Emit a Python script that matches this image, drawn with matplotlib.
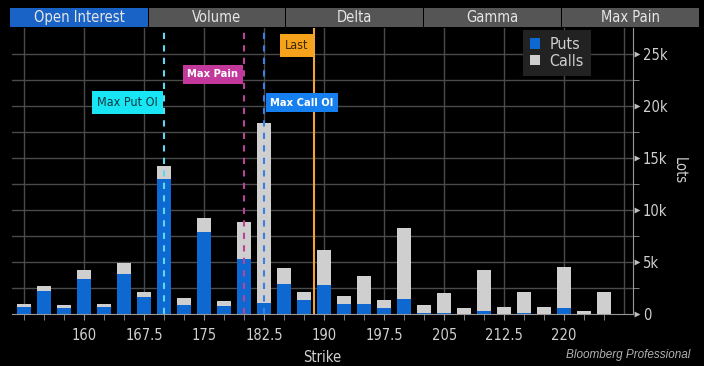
"""
Open interest by strike, Bloomberg style
"""
import matplotlib
matplotlib.use('Agg')
import matplotlib.pyplot as plt
from matplotlib.patches import Rectangle
from matplotlib.transforms import blended_transform_factory
import numpy as np

# strikes and open interest (lots)
strikes = [152.5, 155, 157.5, 160, 162.5, 165, 167.5, 170, 172.5, 175,
           177.5, 180, 182.5, 185, 187.5, 190, 192.5, 195, 197.5, 200,
           202.5, 205, 207.5, 210, 212.5, 215, 217.5, 220, 222.5, 225]
puts = [700, 2200, 600, 3400, 700, 3850, 1650, 13000, 900, 7900,
        800, 5300, 1100, 2900, 1350, 2800, 950, 950, 550, 1400,
        60, 120, 40, 300, 20, 120, 20, 550, 10, 10]
calls = [250, 500, 250, 830, 250, 1050, 450, 1200, 640, 1300,
         450, 3550, 17250, 1550, 770, 3350, 780, 2700, 800, 6850,
         800, 1900, 540, 3950, 650, 2000, 650, 3970, 280, 2100]

tick_strikes = [160, 167.5, 175, 182.5, 190, 197.5, 205, 212.5, 220]
tabs = ["Open Interest", "Volume", "Delta", "Gamma", "Max Pain"]

max_put_oi = 170
max_pain = 180
max_call_oi = 182.5
last_price = 188.8

BG = '#000000'
PUT_C = '#0e68d2'
CALL_C = '#cfcfcf'
GRID_C = '#4a4a4a'
TXT_C = '#d0d0d0'

plt.rcParams['font.family'] = ['DejaVu Sans']
plt.rcParams['font.stretch'] = 'condensed'

W, H = 704, 366
fig = plt.figure(figsize=(W / 100, H / 100), dpi=100, facecolor=BG)
ax = fig.add_axes([12 / W, (H - 314) / H, (633 - 12) / W, (314 - 28) / H])
ax.set_facecolor(BG)

# grid
ax.set_xlim(151.0, 228.6)
ax.set_ylim(0, 27500)
for gx in np.arange(152.5, 228, 7.5):
    ax.axvline(gx, color=GRID_C, lw=1, zorder=0)
for gy in np.arange(2500, 27500, 2500):
    ax.axhline(gy, color=GRID_C, lw=1, zorder=0)

# bars
ax.bar(strikes, puts, width=1.75, color=PUT_C, label='Puts', zorder=2)
ax.bar(strikes, calls, width=1.75, bottom=puts, color=CALL_C, label='Calls', zorder=2)

# reference lines
ax.axvline(max_put_oi, color='#5fd8ef', lw=1.5, ls=(0, (3, 3)), zorder=3)
ax.axvline(max_pain, color='#b8439a', lw=1.5, ls=(0, (3, 3)), zorder=3)
ax.axvline(max_call_oi, color='#3b7fe0', lw=1.5, ls=(0, (3, 3)), zorder=3)
ax.axvline(last_price, color='#f0a43a', lw=1.5, zorder=3)

def tag(x, y, text, fc, tc, side, weight='normal', size=8.5):
    off = -6 if side == 'right' else 6
    ax.annotate(text, xy=(x, y), xytext=(off, 0), textcoords='offset pixels',
                ha=side if side == 'right' else 'left', va='center',
                fontsize=size, color=tc, zorder=5, fontweight=weight,
                bbox=dict(boxstyle='square,pad=0.4', fc=fc, ec='none'))

tag(last_price, 25800, 'Last', '#f7a21b', '#3a2a00', 'right', size=9)
tag(max_pain, 23050, 'Max Pain', '#c2399b', 'white', 'right', 'bold', 8)
tag(max_put_oi, 20300, 'Max Put OI', '#19e6f5', '#0a3a40', 'right', size=9)
tag(max_call_oi, 20300, 'Max Call OI', '#1680f0', 'white', 'left', 'bold', 8)

# axes styling
for s in ['top', 'left']:
    ax.spines[s].set_visible(False)
ax.spines['bottom'].set_color('#9a9a9a')
ax.spines['right'].set_color('#9a9a9a')
ax.yaxis.tick_right()
ax.yaxis.set_label_position('right')
ax.set_yticks(np.arange(0, 27500, 5000))
ax.set_yticklabels(['0', '5k', '10k', '15k', '20k', '25k'])
ax.set_yticks(np.arange(2500, 27500, 5000), minor=True)
ax.tick_params(axis='y', which='major', length=0, pad=7, colors=TXT_C, labelsize=10.5)
ax.tick_params(axis='y', which='minor', length=4, color='#9a9a9a')
ax.set_xticks(tick_strikes)
ax.set_xticklabels([('%g' % t) for t in tick_strikes])
ax.set_xticks(strikes, minor=True)
ax.tick_params(axis='x', which='both', length=4, color='#9a9a9a', colors=TXT_C, labelsize=10.5, pad=6)
ax.tick_params(axis='x', which='minor', length=4, color='#9a9a9a')

# triangle markers on y ticks
tr = blended_transform_factory(ax.transAxes, ax.transData)
ax.scatter([1.006] * 6, np.arange(0, 27500, 5000), marker='>', s=18, color='#bdbdbd',
           transform=tr, clip_on=False, zorder=6, linewidths=0)

ax.set_xlabel('Strike', color=TXT_C, fontsize=10.5, labelpad=5)
ax.set_ylabel('Lots', color=TXT_C, fontsize=10.5, rotation=270, labelpad=14)

leg = ax.legend(loc='upper left', bbox_to_anchor=((523 - 12) / (633 - 12), 0.993),
                frameon=True, fontsize=11.5, handlelength=0.6, handleheight=0.6,
                handletextpad=0.6, borderpad=0.45, borderaxespad=0, labelspacing=0.1,
                fancybox=False)
leg.get_frame().set_facecolor('#222222')
leg.get_frame().set_edgecolor('none')
leg.get_frame().set_alpha(1)
for t in leg.get_texts():
    t.set_color(TXT_C)

# tab bar
tab_x = [10, 149, 286, 424, 562, 700]
for i, name in enumerate(tabs):
    x0, x1 = tab_x[i], tab_x[i + 1] - 1
    fc = '#1a63c6' if i == 0 else '#555555'
    fig.patches.append(Rectangle((x0 / W, (H - 27) / H), (x1 - x0) / W, 19 / H,
                                 transform=fig.transFigure, fc=fc, ec='none'))
    fig.text((x0 + x1) / 2 / W, (H - 17.5) / H, name, ha='center', va='center',
             color='#e6e6e6', fontsize=10.5)

fig.text(690 / W, (H - 355) / H, 'Bloomberg Professional', ha='right', va='center',
         color='#b0b0b0', fontsize=8.5, style='italic', family=['Liberation Sans', 'DejaVu Sans'],
         stretch='normal')

plt.savefig('out.png', dpi=100, facecolor=BG)
